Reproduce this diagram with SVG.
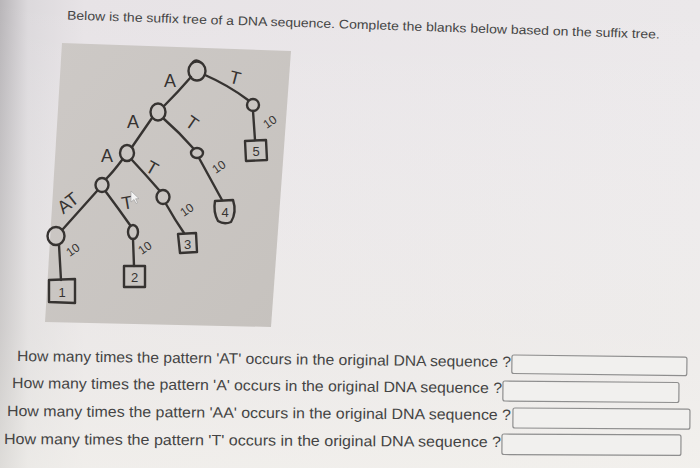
<svg xmlns="http://www.w3.org/2000/svg" width="700" height="468" viewBox="0 0 700 468">
  <defs>
    <linearGradient id="bg" x1="0" y1="0" x2="1" y2="0">
      <stop offset="0" stop-color="#b9b6b9"/>
      <stop offset="0.04" stop-color="#dcd9dc"/>
      <stop offset="0.12" stop-color="#e7e3e6"/>
      <stop offset="1" stop-color="#ebe8ea"/>
    </linearGradient>
    <linearGradient id="bgv" x1="0" y1="0" x2="0" y2="1">
      <stop offset="0" stop-color="#ffffff" stop-opacity="0"/>
      <stop offset="0.7" stop-color="#f4f3ec" stop-opacity="0.35"/>
      <stop offset="1" stop-color="#f6f5ee" stop-opacity="0.6"/>
    </linearGradient>
    <linearGradient id="panel" x1="0" y1="0" x2="1" y2="1">
      <stop offset="0" stop-color="#cdc9c6"/>
      <stop offset="1" stop-color="#c6c2be"/>
    </linearGradient>
    <style>
      .pen { fill: none; stroke: #363331; stroke-width: 2.4; stroke-linecap: round; stroke-linejoin: round; }
      .lbl { font-family: "Liberation Sans", "DejaVu Sans", sans-serif; fill: #363331; }
      .big { font-size: 18px; }
      .ten { font-size: 12px; }
      .dig { font-size: 13px; }
      .q { font-family: "Liberation Sans", Arial, sans-serif; font-size: 15px; fill: #444444; }
      .hdr { font-family: "Liberation Sans", Arial, sans-serif; font-size: 12.5px; fill: #454545; }
      .box { fill: #f1f0ee; stroke: #8e8e8e; stroke-width: 1.2; }
    </style>
  </defs>

  <!-- page background -->
  <rect x="0" y="0" width="700" height="468" fill="url(#bg)"/>
  <rect x="0" y="0" width="700" height="468" fill="url(#bgv)"/>

  <!-- header -->
  <text class="hdr" x="67" y="19.5" transform="rotate(1.85 67 19.5)" textLength="593" lengthAdjust="spacingAndGlyphs">Below is the suffix tree of a DNA sequence. Complete the blanks below based on the suffix tree.</text>

  <!-- drawing panel -->
  <polygon points="62,43 291,51 271,327 45,322" fill="url(#panel)"/>

  <!-- connectors -->
  <g id="connectors" class="pen">
    <path d="M191,77 Q178,92 164,106"/>
    <path d="M205,75 Q228,85 248,100"/>
    <path d="M253,111 L255,140"/>
    <path d="M152,118 Q141,134 132,147"/>
    <path d="M164,119 Q180,133 193,148"/>
    <path d="M199,158 Q211,180 222,200"/>
    <path d="M122,160 Q113,172 106,179"/>
    <path d="M132,160 Q146,175 159,190"/>
    <path d="M166,204 Q175,220 184,233"/>
    <path d="M97,191 Q80,210 63,229"/>
    <path d="M106,192 Q118,208 130,225"/>
    <path d="M133,239 L134,266"/>
    <path d="M59,245 Q60,262 61,280"/>
  </g>

  <!-- nodes -->
  <g id="root" class="pen"><ellipse cx="197" cy="71" rx="8.5" ry="9.5"/><path d="M193,62 Q196,59 200,62"/></g>
  <g id="nA1" class="pen"><ellipse cx="158" cy="112" rx="7.5" ry="8.5"/></g>
  <g id="nA2" class="pen"><ellipse cx="127" cy="153" rx="7" ry="8"/></g>
  <g id="nA3" class="pen"><ellipse cx="102" cy="185" rx="6.5" ry="7"/></g>
  <g id="nAT" class="pen"><ellipse cx="56" cy="236" rx="8.5" ry="9"/></g>
  <g id="nT1" class="pen"><ellipse cx="253" cy="105" rx="6" ry="6"/></g>
  <g id="nM" class="pen"><ellipse cx="197" cy="153" rx="6" ry="5"/></g>
  <g id="nT3" class="pen"><ellipse cx="163" cy="197" rx="6.5" ry="7"/></g>
  <g id="nT4" class="pen"><ellipse cx="133" cy="232" rx="5" ry="7"/></g>

  <!-- leaves -->
  <g id="leaf5">
    <path class="pen" d="M245,141 L266,140 L267,160 L246,161 Z"/>
    <text class="lbl dig" x="256" y="155.5" text-anchor="middle">5</text>
  </g>
  <g id="leaf4">
    <path class="pen" d="M215,201 L233,200 Q237,212 231,222 Q224,225 218,221 Q213,212 215,201 Z"/>
    <text class="lbl dig" x="225" y="216.5" text-anchor="middle">4</text>
  </g>
  <g id="leaf3">
    <path class="pen" d="M178,234 L196,233 L197,252 L180,253 Z"/>
    <text class="lbl dig" x="187.5" y="248.5" text-anchor="middle">3</text>
  </g>
  <g id="leaf2">
    <path class="pen" d="M124,266 L145,266 L145,287 L124,287 Z"/>
    <text class="lbl dig" x="134.5" y="281.5" text-anchor="middle">2</text>
  </g>
  <g id="leaf1">
    <path class="pen" d="M49,280 L75,279 L75,303 L49,302 Z"/>
    <text class="lbl dig" x="62" y="296.5" text-anchor="middle">1</text>
  </g>

  <!-- edge labels -->
  <g id="labels" class="lbl">
    <text class="big" x="170" y="87" text-anchor="middle">A</text>
    <text class="big" x="235" y="84" text-anchor="middle" transform="rotate(15 235 78)">T</text>
    <text class="big" x="133" y="128" text-anchor="middle">A</text>
    <text class="big" x="192" y="129" text-anchor="middle" transform="rotate(35 192 123)">T</text>
    <text class="big" x="107" y="162" text-anchor="middle">A</text>
    <text class="big" x="152" y="174" text-anchor="middle" transform="rotate(30 152 168)">T</text>
    <text class="big" x="68" y="209" text-anchor="middle" transform="rotate(-38 68 203)">AT</text>
    <text class="big" x="127" y="209" text-anchor="middle" transform="rotate(-10 127 203)">T</text>
    <text class="ten" x="270" y="126" text-anchor="middle" transform="rotate(-35 270 122)">10</text>
    <text class="ten" x="219" y="171" text-anchor="middle" transform="rotate(-35 219 167)">10</text>
    <text class="ten" x="187" y="214" text-anchor="middle" transform="rotate(-35 187 210)">10</text>
    <text class="ten" x="145" y="252" text-anchor="middle" transform="rotate(-35 145 248)">10</text>
    <text class="ten" x="73" y="254" text-anchor="middle" transform="rotate(-35 73 250)">10</text>
  </g>

  <!-- mouse pointer -->
  <polygon points="131,191 131,202 134,199.5 136,203.5 137.5,202.8 135.6,198.8 139,198.6" fill="#f4f4f4" stroke="#9a9a9a" stroke-width="0.6"/>

  <!-- questions -->
  <g id="q1">
    <text class="q" x="17" y="361" transform="rotate(0.7 17 361)" textLength="494" lengthAdjust="spacingAndGlyphs">How many times the pattern 'AT' occurs in the original DNA sequence ?</text>
    <rect class="box" x="512" y="355" width="175" height="18.5" rx="2" transform="rotate(0.7 512 355)"/>
  </g>
  <g id="q2">
    <text class="q" x="12" y="388" transform="rotate(0.6 12 388)" textLength="490" lengthAdjust="spacingAndGlyphs">How many times the pattern 'A' occurs in the original DNA sequence ?</text>
    <rect class="box" x="503" y="381" width="176" height="20" rx="2" transform="rotate(0.5 503 381)"/>
  </g>
  <g id="q3">
    <text class="q" x="7" y="416" transform="rotate(0.45 7 416)" textLength="504" lengthAdjust="spacingAndGlyphs">How many times the pattern 'AA' occurs in the original DNA sequence ?</text>
    <rect class="box" x="513" y="408" width="177" height="20" rx="2" transform="rotate(0.4 513 408)"/>
  </g>
  <g id="q4">
    <text class="q" x="4" y="444" transform="rotate(0.35 4 444)" textLength="497" lengthAdjust="spacingAndGlyphs">How many times the pattern 'T' occurs in the original DNA sequence ?</text>
    <rect class="box" x="502" y="434" width="179" height="20.5" rx="2" transform="rotate(0.3 502 434)"/>
  </g>
</svg>
